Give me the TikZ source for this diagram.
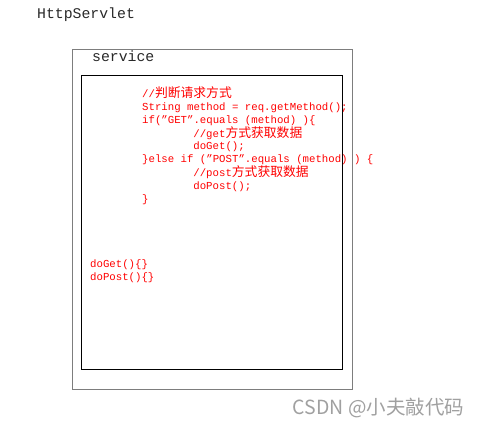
\documentclass[tikz,border=0pt]{standalone}
\usepackage{fontspec}
\setmonofont{Liberation Mono}
\newfontfamily\cjk{Noto Sans CJK SC}
\usepackage{tikz}

\definecolor{codered}{RGB}{255,0,0}
\definecolor{framegray}{RGB}{125,125,125}
\definecolor{textgray}{RGB}{40,40,40}
\definecolor{markgray}{RGB}{160,160,160}
\newcommand{\zhtext}[1]{{\cjk\fontsize{12.8}{12.9}\selectfont #1}}
\newcommand{\indentcode}{\hspace*{51.2pt}}

\begin{document}
\begin{tikzpicture}[x=1pt,y=-1pt]
    \tikzstyle{outerframe} = [draw=framegray,line width=1.4pt,inner sep=0,anchor=north west]
    \tikzstyle{innerframe} = [draw=black,line width=1pt,inner sep=0,anchor=north west]
    \tikzstyle{title}=[
      inner sep=0,
      anchor=base west,
      text=textgray,
      font=\ttfamily\fontsize{14.8}{16}\selectfont,
    ]
    \tikzstyle{codetext}=[
      inner sep=0,
      anchor=base west,
      align=left,
      text=codered,
      font=\ttfamily\fontsize{10.7}{12.9}\selectfont,
    ]
    \tikzstyle{watermark}=[inner sep=0,anchor=base west,text=markgray,font=\cjk\fontsize{19.5}{20}\selectfont]

    \useasboundingbox (0,0) rectangle (479,425);

    \node[title] (httpservlet) at (37,19) {HttpServlet};
    \node[outerframe,minimum width=280.5pt,minimum height=340pt] (servlet) at (71.5,49) {};
    \node[title] (service) at (92,62) {service};
    \node[innerframe,minimum width=261.3pt,minimum height=294pt] (body) at (80.7,75) {};

    % base anchor sits on the last line
    \node[codetext] (dispatch) at (142,202.7) {%
      //\zhtext{判断请求方式}\\
      String method = req.getMethod();\\
      if(”GET”.equals (method) )\{\\
      \indentcode//get\zhtext{方式获取数据}\\
      \indentcode doGet();\\
      \}else if (”POST”.equals (method) ) \{\\
      \indentcode//post\zhtext{方式获取数据}\\
      \indentcode doPost();\\
      \}};
    \node[codetext] (handlers) at (90,280.5) {doGet()\{\}\\doPost()\{\}};

    \node[watermark] (csdn) at (292.7,414) {CSDN @小夫敲代码};
  \end{tikzpicture}
\end{document}
